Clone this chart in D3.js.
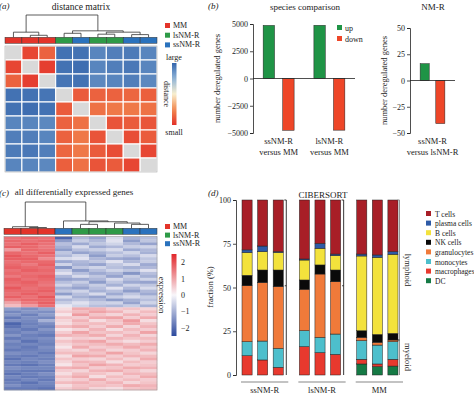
<!DOCTYPE html>
<html>
<head>
<meta charset="utf-8">
<script src="https://cdn.jsdelivr.net/npm/d3@7"></script>
<style>
  body { margin: 0; background: #fff; }
  svg { display: block; font-family: "Liberation Serif", "Times New Roman", serif; }
</style>
</head>
<body>
<svg id="fig" width="474" height="394"></svg>
<script>
// ---- data ----
const groupColors = { 'MM': '#e3342a', 'lsNM-R': '#2e9a47', 'ssNM-R': '#2a72bd' };
const groupNames = ['MM', 'lsNM-R', 'ssNM-R'];

// (a) distance matrix, columns in dendrogram order (null = diagonal)
const distSamples = ['MM', 'MM', 'MM', 'lsNM-R', 'ssNM-R', 'lsNM-R', 'lsNM-R', 'ssNM-R', 'ssNM-R'];
const distValues = [
  [null, 0.06, 0.14, 0.96, 0.96, 0.90, 0.92, 0.93, 0.90],
  [0.06, null, 0.04, 0.96, 0.97, 0.90, 0.92, 0.94, 0.90],
  [0.14, 0.04, null, 0.95, 0.96, 0.89, 0.90, 0.92, 0.89],
  [0.96, 0.96, 0.95, null, 0.12, 0.14, 0.14, 0.15, 0.13],
  [0.96, 0.97, 0.96, 0.12, null, 0.18, 0.20, 0.20, 0.18],
  [0.90, 0.90, 0.89, 0.14, 0.18, null, 0.10, 0.12, 0.10],
  [0.92, 0.92, 0.90, 0.14, 0.20, 0.10, null, 0.08, 0.12],
  [0.93, 0.94, 0.92, 0.15, 0.20, 0.12, 0.08, null, 0.06],
  [0.90, 0.90, 0.89, 0.13, 0.18, 0.10, 0.12, 0.06, null]
];
// [height, left, right], leaves = column index
const distTree = [10, [2.3, 0, [0.9, 1, 2]], [2.9, [1.8, 3, 4], [2.3, [1.4, 5, 6], [1.2, 7, 8]]]];

// (b) deregulated genes
const compCategories = ['ssNM-R versus MM', 'lsNM-R versus MM'];
const compUp = [4870, 4880];
const compDown = [-4750, -4740];
const nmCategories = ['ssNM-R versus lsNM-R'];
const nmUp = [16];
const nmDown = [-41];

// (c) expression heatmap
const exprSamples = ['MM', 'MM', 'MM', 'ssNM-R', 'lsNM-R', 'lsNM-R', 'lsNM-R', 'ssNM-R', 'ssNM-R'];
const exprTree = [10, [0.6, 0, [0.3, 1, 2]], [2.8, 3, [2.5, [1.5, 4, 5], [2.0, 6, [1.5, 7, 8]]]]];
const exprValues = [
  [1.6, 1.7, 1.6, -2.1, -0.9, -1.2, -0.4, -1.0, -0.8],
  [1.7, 1.6, 1.7, -1.3, -0.6, -0.9, -0.3, -1.3, -0.7],
  [1.6, 1.8, 1.6, -0.8, -1.1, -0.7, -0.5, -0.9, -1.2],
  [1.8, 1.7, 1.5, -1.0, -0.4, -1.1, -0.9, -0.6, -0.5],
  [1.1, 1.7, 1.6, -1.3, -0.8, -0.6, -0.4, -1.1, -0.9],
  [1.7, 1.6, 1.8, -0.7, -1.2, -1.0, -0.8, -0.5, -1.0],
  [1.9, 1.7, 1.6, -0.9, -0.5, -1.3, -0.6, -0.8, -0.4],
  [1.8, 1.8, 1.3, -0.4, -0.3, -0.9, -1.1, -1.2, -0.7],
  [1.6, 1.7, 1.7, -1.1, -0.9, -0.7, -0.3, -0.9, -0.6],
  [1.7, 1.5, 1.8, -0.5, -1.0, -1.2, -0.7, -0.4, -1.1],
  [1.8, 1.7, 1.6, -1.4, -0.7, -0.5, -0.8, -1.0, -0.9],
  [1.6, 1.8, 1.7, -0.6, -1.3, -0.8, -0.5, -0.7, -0.3],
  [1.7, 1.6, 1.6, -0.3, -0.8, -1.1, -0.9, -1.4, -0.8],
  [1.5, 1.7, 1.8, -0.9, -0.4, -0.7, -1.2, -0.6, -1.0],
  [1.8, 1.6, 1.7, -1.2, -1.1, -0.9, -0.4, -0.8, -0.5],
  [1.7, 1.8, 1.6, -0.8, -0.6, -1.3, -0.7, -1.1, -1.2],
  [1.6, 1.7, 1.5, -0.5, -0.9, -0.6, -1.0, -0.5, -0.7],
  [1.9, 1.6, 1.7, -1.0, -1.2, -0.8, -0.3, -0.9, -0.4],
  [1.7, 1.7, 1.8, -0.7, -0.5, -1.0, -0.8, -1.3, -0.9],
  [1.6, 1.8, 1.6, -1.3, -0.8, -0.4, -1.1, -0.7, -1.1],
  [1.8, 1.6, 1.9, -0.4, -1.0, -1.2, -0.6, -0.4, -0.6],
  [1.5, 1.7, 1.7, -0.9, -0.7, -0.9, -1.3, -1.0, -0.8],
  [1.0, 1.5, 1.8, -0.6, -0.3, -0.6, -0.5, -1.2, -0.5],
  [0.7, 1.1, 1.6, -0.2, -0.5, -0.8, -0.9, -0.6, -1.0],
  [-1.3, -1.5, -1.2, 0.3, 0.9, 0.8, 0.5, 0.6, 0.4],
  [-1.6, -1.4, -1.5, 0.5, 0.7, 1.0, 0.8, 0.4, 0.7],
  [-1.4, -1.7, -1.3, 0.2, 1.1, 0.6, 0.4, 0.8, 0.5],
  [-1.8, -1.5, -1.6, 0.6, 0.5, 0.9, 1.0, 0.5, 0.9],
  [-1.5, -1.6, -1.0, 0.4, 0.8, 0.3, 0.6, 1.1, 0.3],
  [-2.1, -1.7, -1.5, 0.3, 0.6, 0.7, 0.5, 0.9, 0.6],
  [-1.9, -1.6, -1.7, 0.7, 0.9, 0.5, 0.9, 0.4, 0.8],
  [-1.6, -1.8, -1.4, 0.2, 0.4, 0.8, 0.3, 0.7, 0.5],
  [-1.7, -1.5, -1.6, 0.5, 1.0, 0.6, 0.7, 0.5, 1.0],
  [-1.4, -1.7, -1.8, 0.8, 0.7, 0.9, 0.4, 0.8, 0.4],
  [-1.8, -1.6, -1.5, 0.3, 0.5, 0.4, 0.8, 0.6, 0.7],
  [-1.5, -1.9, -1.6, 0.6, 0.8, 1.0, 0.5, 0.3, 0.5],
  [-1.7, -1.6, -1.7, 0.4, 0.6, 0.7, 0.9, 0.7, 0.9],
  [-1.6, -1.8, -1.5, 0.2, 0.9, 0.5, 0.6, 0.9, 0.6],
  [-1.8, -1.7, -1.6, 0.5, 0.4, 0.8, 0.4, 0.5, 0.8],
  [-1.5, -1.6, -1.8, 0.7, 0.7, 0.6, 1.0, 0.6, 0.4],
  [-1.7, -1.8, -1.6, 0.3, 1.0, 0.9, 0.5, 0.8, 0.7],
  [-1.9, -1.6, -1.7, 0.6, 0.5, 0.4, 0.7, 0.4, 0.9],
  [-1.6, -1.7, -1.5, 0.4, 0.8, 0.7, 0.3, 0.7, 0.5],
  [-1.8, -1.9, -1.7, 0.2, 0.6, 1.0, 0.8, 0.5, 0.6],
  [-1.5, -1.6, -1.6, 0.8, 0.9, 0.5, 0.6, 0.9, 0.8],
  [-1.7, -1.8, -1.8, 0.5, 0.4, 0.8, 0.9, 0.6, 0.4],
  [-1.9, -1.7, -1.5, 0.3, 0.7, 0.6, 0.4, 0.8, 0.7],
  [-1.6, -1.8, -1.7, 0.6, 0.9, 0.3, 0.7, 0.5, 0.9],
  [-1.8, -1.6, -1.8, 0.4, 0.5, 0.9, 0.5, 0.7, 0.5],
  [-1.7, -1.9, -1.6, 0.7, 0.8, 0.6, 0.8, 0.4, 0.6],
  [-1.5, -1.7, -1.7, 0.3, 0.6, 0.7, 0.6, 0.9, 0.8],
  [-1.8, -1.8, -1.9, 0.5, 0.7, 0.4, 0.3, 0.6, 0.7]
];
const exprTicks = [2, 1, 0, -1, -2];

// (d) CIBERSORT, stacked bottom -> top
const cellTypes = ['DC', 'macrophages', 'monocytes', 'granulocytes', 'NK cells', 'B cells', 'plasma cells', 'T cells'];
const cellColors = ['#157a45', '#e8392e', '#4dbfcc', '#f07a3a', '#0a0a0a', '#f3e23c', '#2d5aa6', '#a81e27'];
const cibGroups = ['ssNM-R', 'lsNM-R', 'MM'];
const cibFractions = [
  [0, 11.0, 8.0, 32.0, 6.0, 13.0, 1.5, 28.5],
  [0, 8.6, 10.8, 33.4, 7.2, 10.5, 3.2, 26.3],
  [0, 4.4, 10.8, 35.3, 9.5, 10.0, 0.5, 29.5],
  [0, 16.2, 9.1, 23.7, 5.3, 11.4, 0.6, 33.7],
  [0, 12.8, 8.7, 36.2, 5.2, 9.5, 2.8, 24.8],
  [0, 11.8, 11.6, 29.9, 6.7, 8.2, 0.9, 30.9],
  [6.3, 2.7, 10.6, 1.9, 3.8, 42.7, 1.1, 30.9],
  [4.8, 1.5, 10.8, 1.6, 4.5, 44.0, 1.4, 31.4],
  [5.1, 3.9, 10.0, 1.0, 3.8, 45.2, 1.5, 29.5]
];
const cibTicks = [0, 25, 50, 75, 100];

const svg = d3.select('#fig');

// small helpers
function label(x, y, txt, size, anchor, extra) {
  let t = svg.append('text').attr('x', x).attr('y', y).attr('font-size', size)
    .attr('text-anchor', anchor || 'start').attr('fill', '#222').text(txt);
  if (extra) extra(t);
  return t;
}
function italic(t) { t.attr('font-style', 'italic'); }

function drawTree(g, node, x, y) {
  if (typeof node === 'number') return [x(node) + x.bandwidth() / 2, 0];
  let [h, l, r] = node;
  let [xl, hl] = drawTree(g, l, x, y);
  let [xr, hr] = drawTree(g, r, x, y);
  g.append('path')
    .attr('d', `M${xl},${y(hl)}V${y(h)}H${xr}V${y(hr)}`)
    .attr('fill', 'none').attr('stroke', '#333').attr('stroke-width', 0.8);
  return [(xl + xr) / 2, h];
}

function groupLegend(x, y0, step) {
  groupNames.forEach((n, i) => {
    svg.append('rect').attr('x', x).attr('y', y0 + i * step - 3)
      .attr('width', 5).attr('height', 5).attr('fill', groupColors[n]);
    label(x + 8, y0 + i * step + 2, n, 8);
  });
}

// ---- (a) distance matrix ----
label(-1, 9, '(a)', 9, 'start', italic);
label(81, 10, 'distance matrix', 9.5, 'middle');

let xA = d3.scaleBand().domain(d3.range(9)).range([5, 157]);
let yA = d3.scaleBand().domain(d3.range(9)).range([46, 172]);
let distColor = d3.scaleLinear().domain([0, 0.25, 0.5, 0.75, 1])
  .range(['#e3302a', '#f28a4f', '#f8efcf', '#8fb4d8', '#3465ac']);

drawTree(svg.append('g'), distTree, xA, d3.scaleLinear().domain([0, 10]).range([37.3, 15]));

svg.append('g').selectAll('rect').data(distSamples).join('rect')
  .attr('x', (d, i) => xA(i)).attr('y', 37.3)
  .attr('width', xA.bandwidth()).attr('height', 6)
  .attr('fill', d => groupColors[d]).attr('stroke', '#333').attr('stroke-width', 0.5);

let cellsA = [];
distValues.forEach((row, r) => row.forEach((v, c) => cellsA.push({ r, c, v })));
svg.append('g').selectAll('rect').data(cellsA).join('rect')
  .attr('x', d => xA(d.c)).attr('y', d => yA(d.r))
  .attr('width', xA.bandwidth()).attr('height', yA.bandwidth())
  .attr('fill', d => d.v === null ? '#d9d9d9' : distColor(d.v))
  .attr('stroke', '#fff').attr('stroke-width', 1.1);
svg.append('rect').attr('x', 5).attr('y', 46).attr('width', 152).attr('height', 126)
  .attr('fill', 'none').attr('stroke', '#aaa').attr('stroke-width', 0.6);

groupLegend(165, 26, 9.7);

let defs = svg.append('defs');
let gradA = defs.append('linearGradient').attr('id', 'gradA')
  .attr('x1', 0).attr('y1', 1).attr('x2', 0).attr('y2', 0);
d3.range(0, 1.01, 0.1).forEach(t => gradA.append('stop')
  .attr('offset', t).attr('stop-color', distColor(t)));
svg.append('rect').attr('x', 172).attr('y', 63).attr('width', 4.5).attr('height', 62)
  .attr('fill', 'url(#gradA)');
label(174, 60, 'large', 8, 'middle');
label(174, 135, 'small', 8, 'middle');
label(0, 0, 'distance', 8, 'middle', t => t.attr('transform', 'translate(164,94) rotate(90)'));

// ---- (b) species comparison ----
label(208, 9, '(b)', 9, 'start', italic);
label(305, 10, 'species comparison', 9, 'middle');
label(433, 10, 'NM-R', 9, 'middle');

function barPanel(cats, up, down, yDomain, ticks, xRange, yRange, outerPad, labelX) {
  let y = d3.scaleLinear().domain(yDomain).range(yRange);
  let x0 = d3.scaleBand().domain(cats).range(xRange)
    .paddingInner(0.39).paddingOuter(outerPad);
  let x1 = d3.scaleBand().domain(['up', 'down']).range([0, x0.bandwidth()]).paddingInner(0.42);
  let g = svg.append('g');
  let data = [];
  cats.forEach((c, i) => {
    data.push({ c, k: 'up', v: up[i] });
    data.push({ c, k: 'down', v: down[i] });
  });
  g.selectAll('rect').data(data).join('rect')
    .attr('x', d => x0(d.c) + x1(d.k))
    .attr('y', d => y(Math.max(0, d.v)))
    .attr('width', x1.bandwidth())
    .attr('height', d => Math.abs(y(d.v) - y(0)))
    .attr('fill', d => d.k === 'up' ? '#1f9446' : '#ee4628')
    .attr('stroke', '#222').attr('stroke-width', 0.5);
  g.append('line').attr('x1', xRange[0]).attr('x2', xRange[1])
    .attr('y1', y(0)).attr('y2', y(0)).attr('stroke', '#222').attr('stroke-width', 0.8);
  let ax = g.append('g').attr('transform', `translate(${xRange[0]},0)`)
    .call(d3.axisLeft(y).tickValues(ticks).tickSize(3).tickPadding(2)
      .tickFormat(d => d < 0 ? '\u2212' + Math.abs(d) : d));
  ax.selectAll('text').attr('font-size', 8).attr('font-family', 'Liberation Serif').attr('fill', '#222');
  ax.selectAll('line,path').attr('stroke', '#222').attr('stroke-width', 0.8);
  cats.forEach(c => {
    let parts = c.split(' versus ');
    let cx = x0(c) + x0.bandwidth() / 2;
    label(cx, 144, parts[0], 8.5, 'middle');
    label(cx, 155, 'versus ' + parts[1], 8.5, 'middle');
  });
  label(0, 0, 'number deregulated genes', 8.5, 'middle',
    t => t.attr('transform', `translate(${labelX},${(yRange[0] + yRange[1]) / 2}) rotate(-90)`));
}
barPanel(compCategories, compUp, compDown, [-5000, 5000], [-5000, -2500, 0, 2500, 5000],
  [253, 355], [133, 24], 0.2, 220);
barPanel(nmCategories, nmUp, nmDown, [-50, 50], [-50, -25, 0, 25, 50],
  [410, 455], [133, 28], 0.25, 387);

[['up', '#1f9446'], ['down', '#ee4628']].forEach(([n, c], i) => {
  svg.append('rect').attr('x', 337).attr('y', 25 + i * 11).attr('width', 5).attr('height', 5).attr('fill', c);
  label(345, 30.5 + i * 11, n, 8);
});

// ---- (c) all differentially expressed genes ----
label(-1, 196, '(c)', 9, 'start', italic);
label(74, 195, 'all differentially expressed genes', 9, 'middle');

let xC = d3.scaleBand().domain(d3.range(9)).range([4, 157]);
let yC = d3.scaleBand().domain(d3.range(exprValues.length)).range([236.5, 390]);
let exprColor = d3.scaleLinear().domain([-2.5, 0, 2.5]).range(['#2c4a9e', '#f8f6fa', '#e2262b']);

drawTree(svg.append('g'), exprTree, xC, d3.scaleLinear().domain([0, 10]).range([228.3, 202]));

svg.append('g').selectAll('rect').data(exprSamples).join('rect')
  .attr('x', (d, i) => xC(i)).attr('y', 228.3)
  .attr('width', xC.bandwidth()).attr('height', 6)
  .attr('fill', d => groupColors[d]).attr('stroke', '#333').attr('stroke-width', 0.5);

let cellsC = [];
exprValues.forEach((row, r) => row.forEach((v, c) => cellsC.push({ r, c, v })));
svg.append('g').selectAll('rect').data(cellsC).join('rect')
  .attr('x', d => xC(d.c)).attr('y', d => yC(d.r))
  .attr('width', xC.bandwidth() + 0.3).attr('height', yC.bandwidth() + 0.3)
  .attr('fill', d => exprColor(d.v));
svg.append('rect').attr('x', 4).attr('y', 236.5).attr('width', 153).attr('height', 153.5)
  .attr('fill', 'none').attr('stroke', '#999').attr('stroke-width', 0.6);

groupLegend(165, 227, 8.6);

let yCbar = d3.scaleLinear().domain([-2.5, 2.5]).range([336, 254]);
let gradC = defs.append('linearGradient').attr('id', 'gradC')
  .attr('x1', 0).attr('y1', 1).attr('x2', 0).attr('y2', 0);
d3.range(-2.5, 2.51, 0.5).forEach(v => gradC.append('stop')
  .attr('offset', (v + 2.5) / 5).attr('stop-color', exprColor(v)));
svg.append('rect').attr('x', 171.5).attr('y', yCbar(2.5)).attr('width', 5)
  .attr('height', yCbar(-2.5) - yCbar(2.5)).attr('fill', 'url(#gradC)');
exprTicks.forEach(v => label(181, yCbar(v) + 3, v < 0 ? '\u2212' + Math.abs(v) : v, 8));
label(0, 0, 'expression', 8.5, 'middle', t => t.attr('transform', 'translate(159,295) rotate(90)'));

// ---- (d) CIBERSORT ----
label(208, 196, '(d)', 9, 'start', italic);
label(323, 198, 'CIBERSORT', 9, 'middle');

let yD = d3.scaleLinear().domain([0, 100]).range([375, 200]);
let gx = d3.scaleBand().domain(cibGroups).range([242, 398]).paddingInner(0.28);
let bx = d3.scaleBand().domain([0, 1, 2]).range([0, gx.bandwidth()]).paddingInner(0.35);

let barsD = cibFractions.map((f, i) => {
  let o = { grp: cibGroups[Math.floor(i / 3)], rep: i % 3 };
  cellTypes.forEach((c, j) => o[c] = f[j]);
  return o;
});
let stacked = d3.stack().keys(cellTypes)(barsD);
svg.append('g').selectAll('g').data(stacked).join('g')
  .attr('fill', (d, i) => cellColors[i])
  .selectAll('rect').data(d => d).join('rect')
  .attr('x', d => gx(d.data.grp) + bx(d.data.rep))
  .attr('y', d => yD(d[1]))
  .attr('width', bx.bandwidth())
  .attr('height', d => yD(d[0]) - yD(d[1]))
  .attr('stroke', '#222').attr('stroke-width', 0.5);

let axD = svg.append('g').attr('transform', 'translate(236,0)')
  .call(d3.axisLeft(yD).tickValues(cibTicks).tickSize(3).tickPadding(2));
axD.selectAll('text').attr('font-size', 8).attr('font-family', 'Liberation Serif').attr('fill', '#222');
axD.selectAll('line,path').attr('stroke', '#222').attr('stroke-width', 0.8);
label(0, 0, 'fraction (%)', 8.5, 'middle', t => t.attr('transform', 'translate(213,287) rotate(-90)'));

// brackets marking lymphoid / myeloid split
let splits = [51, 51, 20];
cibGroups.forEach((g, i) => {
  let bxr = gx(g) + gx.bandwidth() + (i === 2 ? 1.5 : 3);
  let col = i === 2 ? '#888' : '#222';
  svg.append('path')
    .attr('d', `M${bxr - 2},${yD(100)}H${bxr}V${yD(0)}`)
    .attr('fill', 'none').attr('stroke', col).attr('stroke-width', 0.9);
  svg.append('line').attr('x1', bxr - 1.5).attr('x2', bxr).attr('y1', yD(splits[i])).attr('y2', yD(splits[i]))
    .attr('stroke', '#222').attr('stroke-width', 0.9);
  // group underline + name
  svg.append('line').attr('x1', gx(g) - 1).attr('x2', gx(g) + gx.bandwidth() + 5)
    .attr('y1', 382).attr('y2', 382).attr('stroke', '#888').attr('stroke-width', 1.2);
  label(gx(g) + gx.bandwidth() / 2 + 2, 393, g, 8.5, 'middle');
});
label(0, 0, 'lymphoid', 8.5, 'middle', t => t.attr('transform', 'translate(405,270) rotate(90)'));
label(0, 0, 'myeloid', 8.5, 'middle', t => t.attr('transform', 'translate(405,357) rotate(90)'));

// legend (top of stack first)
cellTypes.slice().reverse().forEach((c, i) => {
  let ci = cellTypes.length - 1 - i;
  svg.append('rect').attr('x', 426).attr('y', 211 + i * 9.6).attr('width', 5).attr('height', 5)
    .attr('fill', cellColors[ci]);
  label(435, 216.5 + i * 9.6, c, 7.5);
});
</script>
</body>
</html>
